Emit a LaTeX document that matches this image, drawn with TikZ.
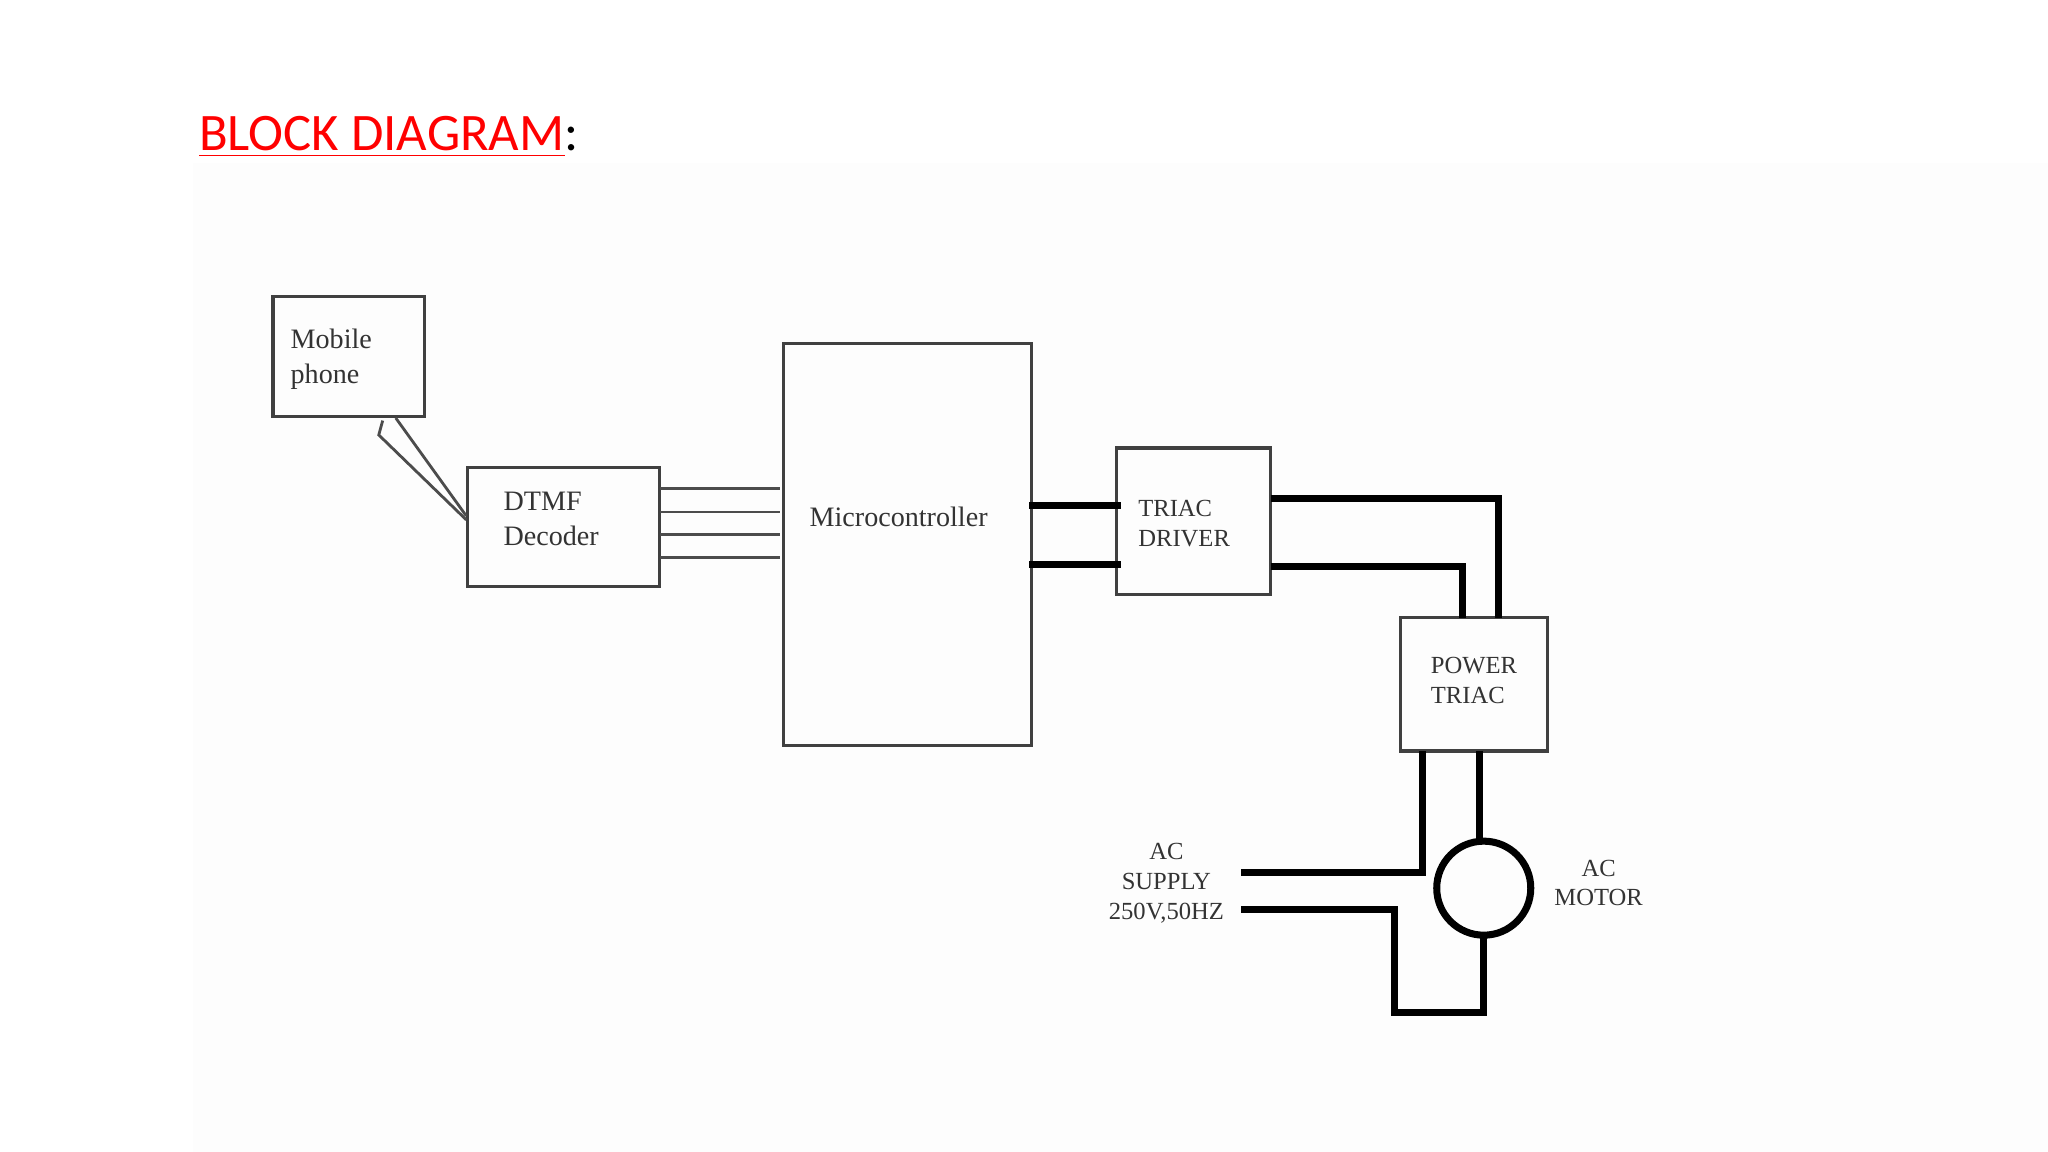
\documentclass[tikz,border=0pt]{standalone}
\usepackage{fontspec}
\setmainfont{Liberation Serif}
\newfontfamily\titlefont{Carlito}
\begin{document}
\begin{tikzpicture}[x=0.013061cm,y=-0.013061cm,
  blk/.style={draw=black!75,line width=0.9pt},
  thin/.style={draw=black!70,line width=0.8pt},
  thick/.style={draw=black,line width=2pt},
  lbl/.style={font=\fontsize{8}{10}\selectfont,text=black!80,align=left,inner sep=0pt},
  slbl/.style={font=\fontsize{7}{8.5}\selectfont,text=black!80,align=left,inner sep=0pt}]
\useasboundingbox (0,0) rectangle (1568,882);
\fill[white] (0,0) rectangle (1568,882);
\fill[black!0.6] (148,125) rectangle (1568,882);
\node[anchor=base west,inner sep=0pt,font=\titlefont\fontsize{15}{18}\selectfont] (title) at (152,115)
  {\textcolor{red}{\underline{BLOCK DIAGRAM}}:};
% boxes
\draw[blk] (209,227) rectangle (325,319);
\node[lbl,anchor=west] (mob) at (222,275) {Mobile\\phone};
\draw[blk] (358,358) rectangle (505,449);
\node[lbl,anchor=west] (dtmf) at (385,397) {DTMF\\Decoder};
\draw[blk] (600,263) rectangle (790,571);
\node[lbl] (mc) at (688,396) {Microcontroller};
\draw[blk] (855,343) rectangle (973,455);
\node[slbl,anchor=west] (td) at (871,401) {TRIAC\\DRIVER};
\draw[blk] (1072,473) rectangle (1185,575);
\node[slbl,anchor=west] (pt) at (1095,521) {POWER\\TRIAC};
\draw[line width=2pt] (1136,680) circle (36);
\node[slbl,align=center] (acs) at (893,676) {AC\\SUPPLY\\250V,50HZ};
\node[slbl,align=center] (acm) at (1224,676) {AC\\MOTOR};
% connectors
\draw[thin] (293,322) -- (290,333) -- (357,398);
\draw[thin] (303,320) -- (357,395);
\foreach \y in {374,392,409,427} \draw[thin] (505,\y) -- (597,\y);
\draw[thick] (788,387) -- (858,387);
\draw[thick] (788,432) -- (858,432);
\draw[thick] (973,382) -- (1147,382) -- (1147,473);
\draw[thick] (973,434) -- (1120,434) -- (1120,473);
\draw[thick] (1089,575) -- (1089,668) -- (950,668);
\draw[thick] (1133,575) -- (1133,644);
\draw[thick] (1136,716) -- (1136,775) -- (1068,775) -- (1068,696) -- (950,696);
\end{tikzpicture}
\end{document}
